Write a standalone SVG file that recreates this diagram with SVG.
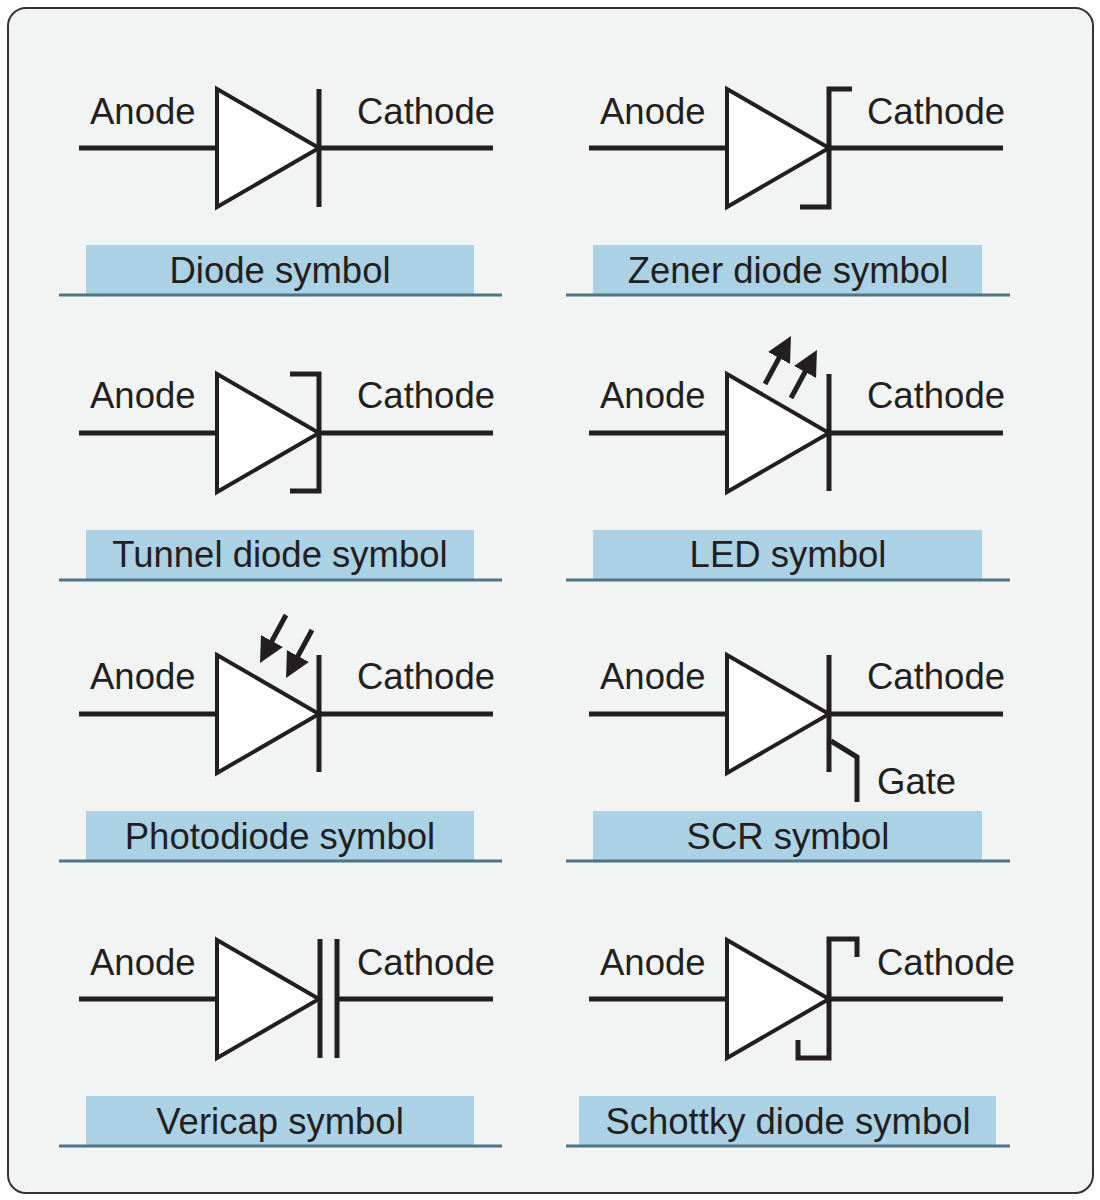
<svg xmlns="http://www.w3.org/2000/svg" width="1100" height="1200" viewBox="0 0 1100 1200">
<defs>
<style>
.w{stroke:#231f20;stroke-width:5;fill:none}
.t{fill:#fff;stroke:#231f20;stroke-width:4;stroke-linejoin:miter}
.lb{font-family:"Liberation Sans",Arial,sans-serif;font-size:36.5px;fill:#231f20}
.box{fill:#aad1e4}
.ul{stroke:#4f7487;stroke-width:3}
</style>
<marker id="ah" markerWidth="5" markerHeight="5" refX="2.5" refY="2.5" orient="auto" markerUnits="strokeWidth"><path d="M0,0 L5,2.5 L0,5 z" fill="#231f20"/></marker>
<g id="base">
<path d="M79,0 H493" class="w"/>
<path d="M217,-59 L319,0 L217,59 Z" class="t"/>
</g>
</defs>
<rect x="8" y="8" width="1085" height="1185" rx="18" fill="#f2f4f3" stroke="#333" stroke-width="2"/>

<g id="diode">
<use href="#base" y="148"/>
<path d="M319,89 V207" class="w"/>
<text class="lb" x="90" y="124">Anode</text><text class="lb" x="357" y="124">Cathode</text>
<rect class="box" x="86" y="245" width="388" height="50"/><path class="ul" d="M59,295 H502"/>
<text class="lb" x="280" y="283" text-anchor="middle">Diode symbol</text>
</g>

<g id="zener">
<use href="#base" x="510" y="148"/>
<path d="M852,89 H829 V207 H800" class="w"/>
<text class="lb" x="600" y="124">Anode</text><text class="lb" x="867" y="124">Cathode</text>
<rect class="box" x="593" y="245" width="389" height="50"/><path class="ul" d="M566,295 H1010"/>
<text class="lb" x="788" y="283" text-anchor="middle">Zener diode symbol</text>
</g>

<g id="tunnel">
<use href="#base" y="433"/>
<path d="M290,374 H319 V491 H290" class="w"/>
<text class="lb" x="90" y="408">Anode</text><text class="lb" x="357" y="408">Cathode</text>
<rect class="box" x="86" y="530" width="388" height="50"/><path class="ul" d="M59,580 H502"/>
<text class="lb" x="280" y="567" text-anchor="middle">Tunnel diode symbol</text>
</g>

<g id="led">
<use href="#base" x="510" y="433"/>
<path d="M829,374 V491" class="w"/>
<path d="M765,384 L785,347" class="w" marker-end="url(#ah)"/>
<path d="M791,398 L811,361" class="w" marker-end="url(#ah)"/>
<text class="lb" x="600" y="408">Anode</text><text class="lb" x="867" y="408">Cathode</text>
<rect class="box" x="593" y="530" width="389" height="50"/><path class="ul" d="M566,580 H1010"/>
<text class="lb" x="788" y="567" text-anchor="middle">LED symbol</text>
</g>

<g id="photodiode">
<use href="#base" y="714"/>
<path d="M319,655 V772" class="w"/>
<path d="M286,615 L266,652" class="w" marker-end="url(#ah)"/>
<path d="M312,630 L292,667" class="w" marker-end="url(#ah)"/>
<text class="lb" x="90" y="689">Anode</text><text class="lb" x="357" y="689">Cathode</text>
<rect class="box" x="86" y="811" width="388" height="50"/><path class="ul" d="M59,861 H502"/>
<text class="lb" x="280" y="849" text-anchor="middle">Photodiode symbol</text>
</g>

<g id="scr">
<use href="#base" x="510" y="714"/>
<path d="M829,655 V772" class="w"/>
<path d="M831,741 L857,757 V802" class="w" stroke-width="4"/>
<text class="lb" x="877" y="794">Gate</text>
<text class="lb" x="600" y="689">Anode</text><text class="lb" x="867" y="689">Cathode</text>
<rect class="box" x="593" y="811" width="389" height="50"/><path class="ul" d="M566,861 H1010"/>
<text class="lb" x="788" y="849" text-anchor="middle">SCR symbol</text>
</g>

<g id="vericap">
<path d="M79,999 H217 M337,999 H493" class="w"/>
<path d="M217,940 L319,999 L217,1058 Z" class="t"/>
<path d="M320,939 V1058 M337,939 V1058" class="w"/>
<text class="lb" x="90" y="975">Anode</text><text class="lb" x="357" y="975">Cathode</text>
<rect class="box" x="86" y="1096" width="388" height="50"/><path class="ul" d="M59,1146 H502"/>
<text class="lb" x="280" y="1134" text-anchor="middle">Vericap symbol</text>
</g>

<g id="schottky">
<use href="#base" x="510" y="999"/>
<path d="M857,957 V939 H829 V1058 H798 V1040" class="w"/>
<text class="lb" x="600" y="975">Anode</text><text class="lb" x="877" y="975">Cathode</text>
<rect class="box" x="579" y="1096" width="417" height="50"/><path class="ul" d="M566,1146 H1010"/>
<text class="lb" x="788" y="1134" text-anchor="middle">Schottky diode symbol</text>
</g>
</svg>
